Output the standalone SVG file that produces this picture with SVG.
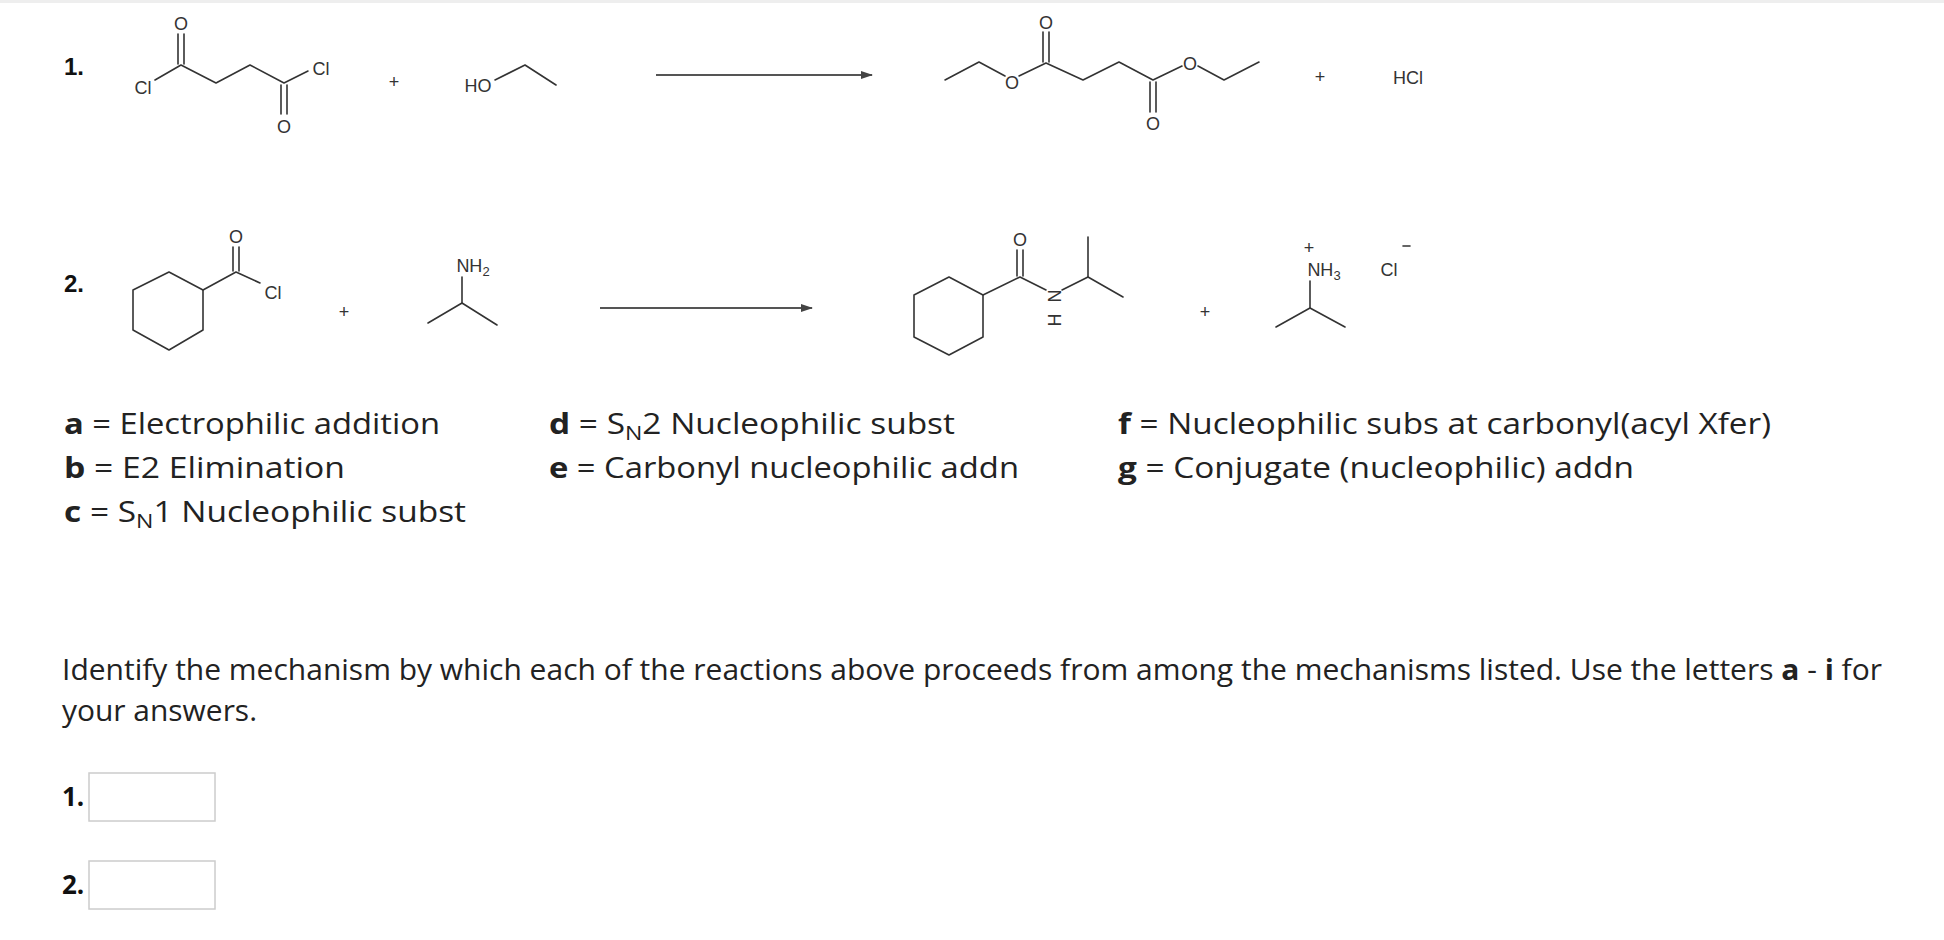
<svg xmlns="http://www.w3.org/2000/svg" width="1944" height="940" viewBox="0 0 1944 940">
<style>
.b{fill:none;stroke:#333;stroke-width:1.6;stroke-linecap:round;stroke-linejoin:round}
.c{font-family:"Liberation Sans",Arial,sans-serif;font-size:18px;fill:#333;text-anchor:middle}
.n{font-family:"Liberation Sans",Arial,sans-serif;font-size:24px;font-weight:bold;fill:#111}
.m{font-family:"Open Sans","DejaVu Sans",sans-serif;font-size:26px;font-weight:bold;fill:#111}
.t{font-family:"Open Sans","DejaVu Sans",sans-serif;font-size:29px;fill:#222}
.box{fill:#fff;stroke:#ccc;stroke-width:1.5}
</style>
<defs><marker id="ah" markerWidth="12" markerHeight="8" refX="11" refY="4" orient="auto" markerUnits="userSpaceOnUse"><path d="M0,0 L12,4 L0,8 z" fill="#444"/></marker></defs>
<rect width="1944" height="940" fill="#fff"/>
<rect width="1944" height="3" fill="#eee"/>
<text class="n" x="64" y="75">1.</text>
<text class="n" x="64" y="292">2.</text>
<g id="r1-acylchloride">
<polyline class="b" points="155,80 181,65 216,83 250,65 284,83 308,71"/>
<line class="b" x1="178" y1="64" x2="178" y2="34"/><line class="b" x1="184" y1="64" x2="184" y2="34"/>
<line class="b" x1="281" y1="85" x2="281" y2="114"/><line class="b" x1="287" y1="85" x2="287" y2="114"/>
<text class="c" x="181" y="30">O</text><text class="c" x="284" y="133">O</text>
<text class="c" x="143" y="94">Cl</text><text class="c" x="321" y="75">Cl</text>
</g>
<text class="c" x="394" y="88">+</text>
<g id="r1-ethanol"><text class="c" x="478" y="92">HO</text><polyline class="b" points="495,80 525,65 556,85"/></g>
<g id="r1-diester">
<polyline class="b" points="945,80 979,62 1005,76"/>
<polyline class="b" points="1019,76 1046,63 1083,80 1119,62 1153,80 1182,66"/>
<polyline class="b" points="1198,66 1224,80 1259,62"/>
<line class="b" x1="1043" y1="62" x2="1043" y2="32"/><line class="b" x1="1049" y1="62" x2="1049" y2="32"/>
<line class="b" x1="1150" y1="82" x2="1150" y2="112"/><line class="b" x1="1156" y1="82" x2="1156" y2="112"/>
<text class="c" x="1046" y="29">O</text><text class="c" x="1153" y="130">O</text>
<text class="c" x="1012" y="89">O</text><text class="c" x="1190" y="70">O</text>
</g>
<text class="c" x="1320" y="83">+</text>
<g id="r1-hcl"><text class="c" x="1408" y="84">HCl</text></g>
<g id="r2-acylchloride">
<polygon class="b" points="169,272 203,290 203,330 169,350 133,330 133,290"/>
<polyline class="b" points="203,290 236,272 260,283"/>
<line class="b" x1="233" y1="271" x2="233" y2="247"/><line class="b" x1="239" y1="271" x2="239" y2="247"/>
<text class="c" x="236" y="243">O</text><text class="c" x="273" y="299">Cl</text>
</g>
<text class="c" x="344" y="318">+</text>
<g id="r2-amine"><text class="c" x="473" y="272">NH<tspan font-size="13" dy="4">2</tspan></text>
<polyline class="b" points="428,323 462,303 497,325"/><line class="b" x1="462" y1="303" x2="462" y2="277"/></g>
<g id="r2-amide">
<polygon class="b" points="949,277 983,295 983,337 949,355 914,337 914,295"/>
<polyline class="b" points="983,295 1020,277 1046,290"/>
<polyline class="b" points="1062,290 1088,277 1123,297"/><line class="b" x1="1088" y1="277" x2="1088" y2="237"/>
<line class="b" x1="1017" y1="276" x2="1017" y2="250"/><line class="b" x1="1023" y1="276" x2="1023" y2="250"/>
<text class="c" x="1020" y="246">O</text>
<text class="c" transform="translate(1054,296) rotate(90)" x="0" y="6">N</text>
<text class="c" transform="translate(1054,320) rotate(90)" x="0" y="6">H</text>
</g>
<text class="c" x="1205" y="318">+</text>
<g id="r2-ammonium">
<text class="c" x="1309" y="254">+</text>
<text class="c" x="1324" y="276">NH<tspan font-size="13" dy="4">3</tspan></text>
<polyline class="b" points="1276,327 1310,308 1345,327"/><line class="b" x1="1310" y1="308" x2="1310" y2="281"/>
<text class="c" x="1389" y="276">Cl</text><line class="b" x1="1403" y1="246" x2="1410" y2="246"/>
</g>
<g id="connectors">
<line stroke="#555" stroke-width="2" x1="656" y1="75" x2="872" y2="75" marker-end="url(#ah)"/>
<line stroke="#555" stroke-width="2" x1="600" y1="308" x2="812" y2="308" marker-end="url(#ah)"/>
</g>
<g id="legend">
<text class="t" x="64" y="434" textLength="376" lengthAdjust="spacingAndGlyphs"><tspan font-weight="bold">a</tspan> = Electrophilic addition</text>
<text class="t" x="64" y="478" textLength="281" lengthAdjust="spacingAndGlyphs"><tspan font-weight="bold">b</tspan> = E2 Elimination</text>
<text class="t" x="64" y="522" textLength="402" lengthAdjust="spacingAndGlyphs"><tspan font-weight="bold">c</tspan> = S<tspan font-size="20" dy="6">N</tspan><tspan dy="-6">1 Nucleophilic subst</tspan></text>
<text class="t" x="549" y="434" textLength="406" lengthAdjust="spacingAndGlyphs"><tspan font-weight="bold">d</tspan> = S<tspan font-size="20" dy="6">N</tspan><tspan dy="-6">2 Nucleophilic subst</tspan></text>
<text class="t" x="549" y="478" textLength="470" lengthAdjust="spacingAndGlyphs"><tspan font-weight="bold">e</tspan> = Carbonyl nucleophilic addn</text>
<text class="t" x="1118" y="434" textLength="653" lengthAdjust="spacingAndGlyphs"><tspan font-weight="bold">f</tspan> = Nucleophilic subs at carbonyl(acyl Xfer)</text>
<text class="t" x="1118" y="478" textLength="516" lengthAdjust="spacingAndGlyphs"><tspan font-weight="bold">g</tspan> = Conjugate (nucleophilic) addn</text>
</g>
<text class="t" x="62" y="680" textLength="1820" lengthAdjust="spacingAndGlyphs">Identify the mechanism by which each of the reactions above proceeds from among the mechanisms listed. Use the letters <tspan font-weight="bold">a</tspan> - <tspan font-weight="bold">i</tspan> for</text>
<text class="t" x="62" y="721" textLength="195" lengthAdjust="spacingAndGlyphs">your answers.</text>
<text class="m" x="62" y="806">1.</text>
<rect id="ans1" class="box" x="89" y="773" width="126" height="48"/>
<text class="m" x="62" y="894">2.</text>
<rect id="ans2" class="box" x="89" y="861" width="126" height="48"/>
</svg>
